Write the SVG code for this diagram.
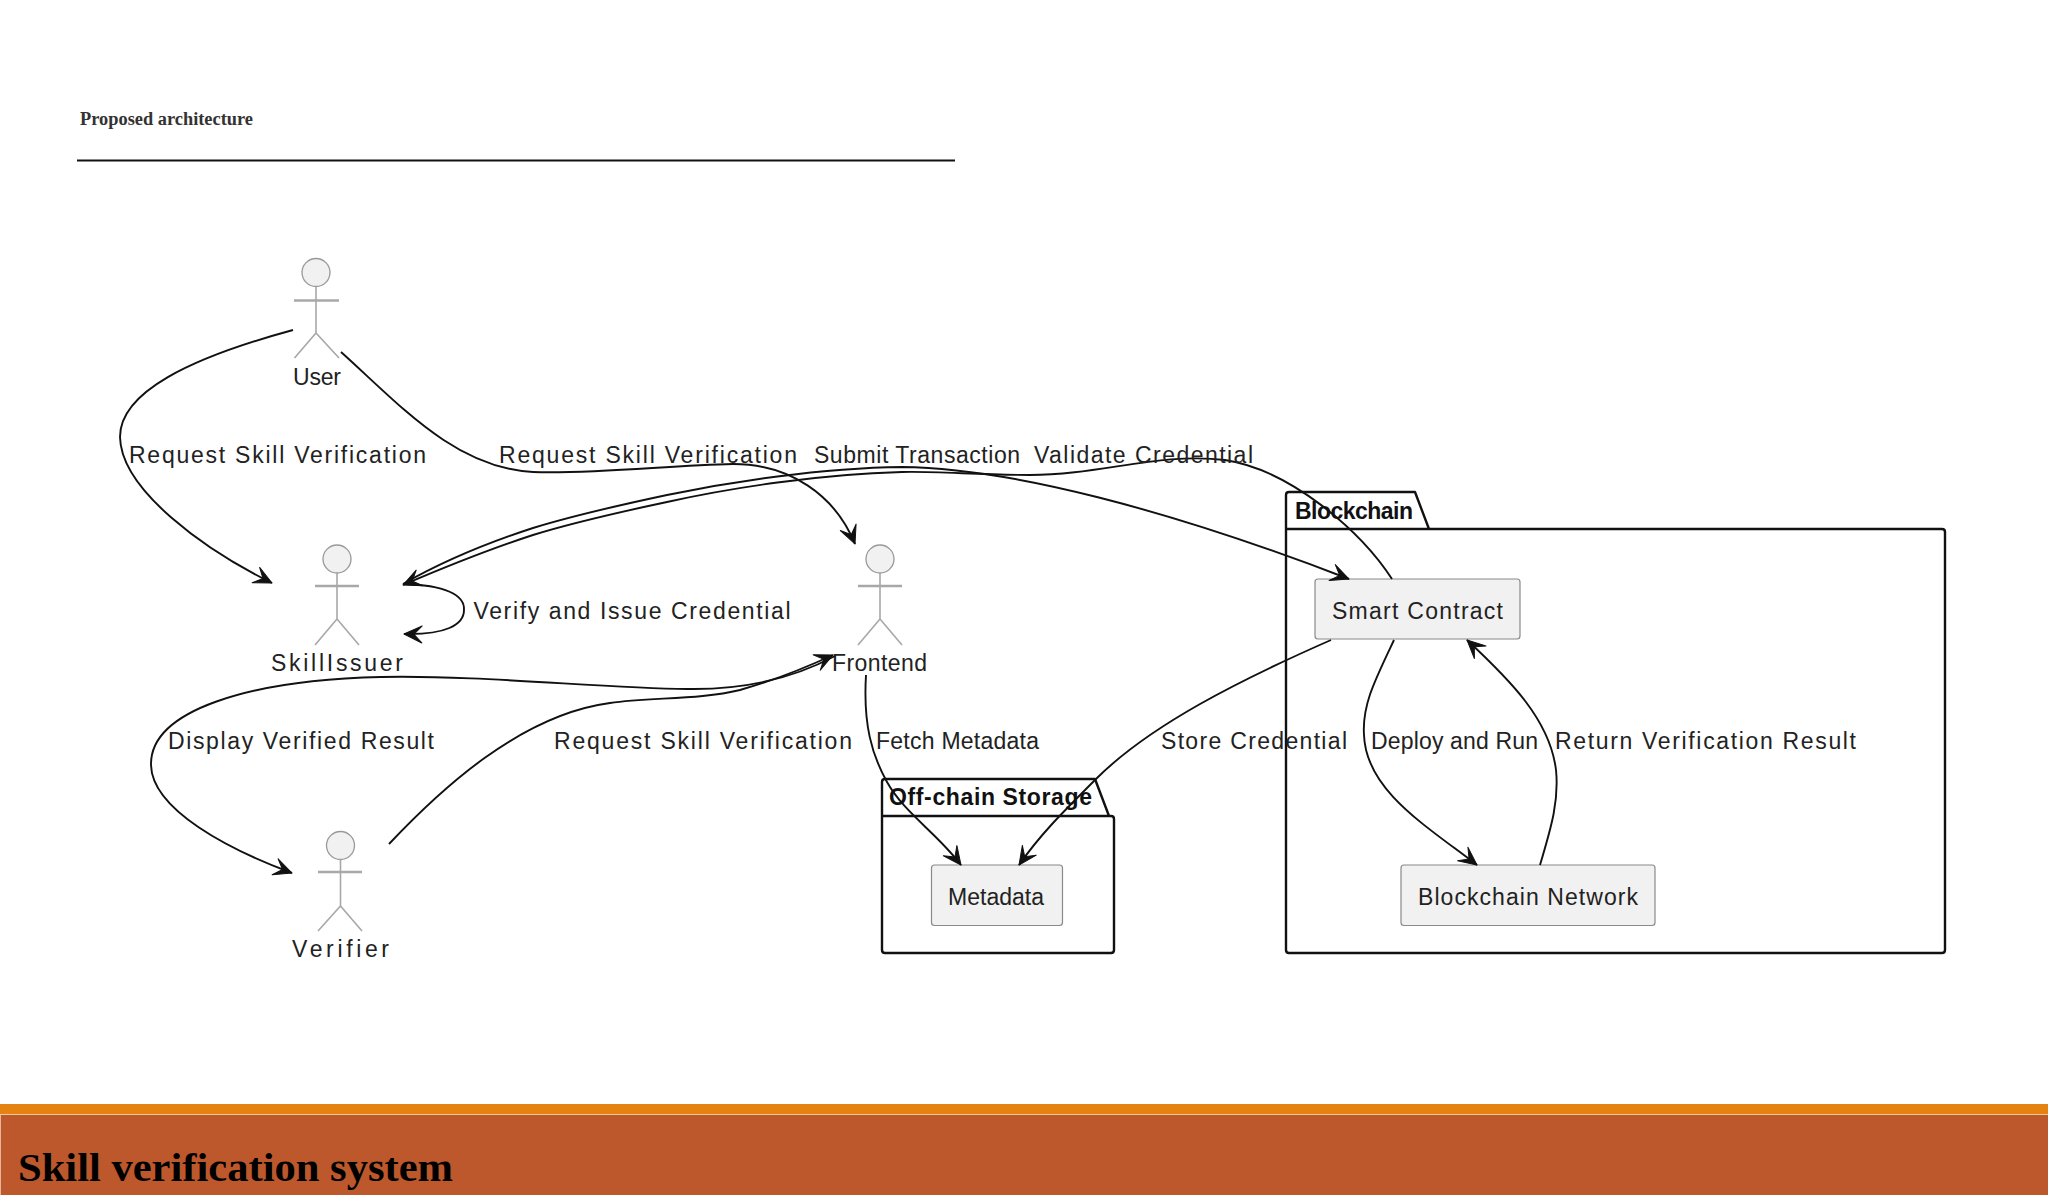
<svg xmlns="http://www.w3.org/2000/svg" width="2048" height="1195" viewBox="0 0 2048 1195">
<style>
text{font-family:"Liberation Sans",Arial,sans-serif;fill:#222}
.lbl{font-size:23px}
.box{fill:#F1F1F1;stroke:#8a8a8a;stroke-width:1.2}
.pkg{fill:none;stroke:#111;stroke-width:2.4;stroke-linejoin:round}
.pt{font-size:23px;font-weight:bold;fill:#111}
.head{fill:#F1F1F1;stroke:#999;stroke-width:1.3}
.limb{fill:none;stroke:#a8a8a8;stroke-width:1.6}
.arms{stroke-width:2.6}
.c{fill:none;stroke:#111;stroke-width:1.9}
.a{marker-end:url(#ah)}
</style>
<defs>
<marker id="ah" markerUnits="userSpaceOnUse" markerWidth="26" markerHeight="24" viewBox="-22 -12 24 24" refX="0" refY="0" orient="auto" overflow="visible">
<path d="M0 0L-18 -8.500L-10 0L-18 8.500Z" fill="#111" stroke="#111" stroke-width="1" stroke-linejoin="round"/>
</marker>
</defs>
<rect width="2048" height="1195" fill="#fff"/>

<g id="title">
<text x="80" y="125" textLength="173" lengthAdjust="spacingAndGlyphs" style="font-family:'Liberation Serif',serif;font-size:18px;font-weight:bold;fill:#333">Proposed architecture</text>
<line x1="77" y1="160.500" x2="955" y2="160.500" stroke="#111" stroke-width="2"/>
</g>

<g id="pkg-offchain">
<path class="pkg" d="M882 816V782Q882 779 885 779H1095L1109 816M882 816H1111Q1114 816 1114 819V950Q1114 953 1111 953H885Q882 953 882 950Z"/>
<text class="pt" x="889" y="805" textLength="203">Off-chain Storage</text>
</g>
<g id="pkg-blockchain">
<path class="pkg" d="M1286 529V495Q1286 492 1289 492H1415L1429 529M1286 529H1942Q1945 529 1945 532V950Q1945 953 1942 953H1289Q1286 953 1286 950Z"/>
<text class="pt" x="1295" y="519" textLength="118">Blockchain</text>
</g>

<g id="node-metadata">
<rect class="box" x="931.500" y="865" width="131" height="60.500" rx="3"/>
<text class="lbl" x="948" y="904.500" textLength="96">Metadata</text>
</g>
<g id="node-smart-contract">
<rect class="box" x="1315" y="579" width="205" height="60" rx="3"/>
<text class="lbl" x="1332" y="619" textLength="171">Smart Contract</text>
</g>
<g id="node-network">
<rect class="box" x="1401" y="865" width="254" height="60.500" rx="3"/>
<text class="lbl" x="1418" y="904.500" textLength="220">Blockchain Network</text>
</g>

<g id="actor-user">
<circle class="head" cx="316" cy="272.500" r="14"/>
<path class="limb" d="M316 286.500V333M294.500 358L316 333L339 358"/>
<path class="limb arms" d="M294 300.500H339"/>
<text class="lbl" x="293" y="384.500" textLength="48">User</text>
</g>
<g id="actor-skillissuer">
<circle class="head" cx="337" cy="559" r="14"/>
<path class="limb" d="M337 573V619M315 645L337 619L359 645"/>
<path class="limb arms" d="M315 586H359"/>
<text class="lbl" x="271" y="670.500" textLength="132">SkillIssuer</text>
</g>
<g id="actor-frontend">
<circle class="head" cx="880" cy="559" r="14"/>
<path class="limb" d="M880 573V619M858 645L880 619L902 645"/>
<path class="limb arms" d="M858 586H902"/>
<text class="lbl" x="832" y="670.500" textLength="95">Frontend</text>
</g>
<g id="actor-verifier">
<circle class="head" cx="340.500" cy="845.500" r="14"/>
<path class="limb" d="M340.500 859V906M318 931L340.500 906L362 931"/>
<path class="limb arms" d="M318 872H362"/>
<text class="lbl" x="292" y="956.500" textLength="97">Verifier</text>
</g>

<g id="connectors">
<path class="c a" d="M293 330C190 358 120 392 120 437C121 490 205 550 272 583"/>
<path class="c a" d="M341 352C400 405 455 468 533 472C600 474 670 465 733 464C790 464 835 495 855 544"/>
<path class="c a" d="M902 467C820 468 730 482 667 495C620 505 575 515 533 528C490 542 445 560 403 584M902 467C1010 468 1170 510 1349 579"/>
<path class="c a" d="M1392 579C1360 530 1290 470 1225 460C1160 452 1100 475 1030 475C980 475 935 471 902 472C820 474 730 488 667 502C620 512 575 522 533 535C490 549 445 567 403 585"/>
<path class="c a" d="M403 584C445 585 465 595 464 610C464 625 445 635 404 634"/>
<path class="c a" d="M835 656C790 680 740 690 687 689C600 688 480 675 381 677C250 680 150 710 151 765C152 810 230 850 292 873"/>
<path class="c a" d="M389 844C440 790 520 715 610 703C650 697 700 700 740 690C775 680 805 668 833 655"/>
<path class="c a" d="M866 675C863 725 872 755 887 782C905 814 936 832 961 865"/>
<path class="c a" d="M1331 640C1240 680 1150 725 1096 779C1060 815 1040 835 1019 865"/>
<path class="c a" d="M1394 640C1375 680 1362 705 1364 735C1366 790 1425 825 1477 865"/>
<path class="c a" d="M1540 865C1552 825 1559 800 1556 770C1550 720 1510 680 1467 640"/>
</g>

<g id="connector-labels">
<text class="lbl" x="129" y="462.500" textLength="297">Request Skill Verification</text>
<text class="lbl" x="499" y="462.500" textLength="298">Request Skill Verification</text>
<text class="lbl" x="814" y="462.500" textLength="206">Submit Transaction</text>
<text class="lbl" x="1034" y="462.500" textLength="219">Validate Credential</text>
<text class="lbl" x="473.500" y="619" textLength="317">Verify and Issue Credential</text>
<text class="lbl" x="168" y="748.500" textLength="266">Display Verified Result</text>
<text class="lbl" x="554" y="748.500" textLength="298">Request Skill Verification</text>
<text class="lbl" x="876" y="748.500" textLength="163">Fetch Metadata</text>
<text class="lbl" x="1161" y="748.500" textLength="186">Store Credential</text>
<text class="lbl" x="1371" y="748.500" textLength="167">Deploy and Run</text>
<text class="lbl" x="1555" y="748.500" textLength="301">Return Verification Result</text>
</g>

<g id="footer">
<rect x="0" y="1104" width="2048" height="10" fill="#E48312"/>
<rect x="0" y="1115" width="2048" height="80" fill="#BD582C"/>
<line x1="0" y1="1114.500" x2="2048" y2="1114.500" stroke="#F3C79A" stroke-width="1"/>
<line x1="0.500" y1="1115" x2="0.500" y2="1195" stroke="#E8B79A" stroke-width="1"/>
<text x="18" y="1181" textLength="435" lengthAdjust="spacingAndGlyphs" style="font-family:'Liberation Serif',serif;font-size:41px;font-weight:bold;fill:#000">Skill verification system</text>
</g>
</svg>
